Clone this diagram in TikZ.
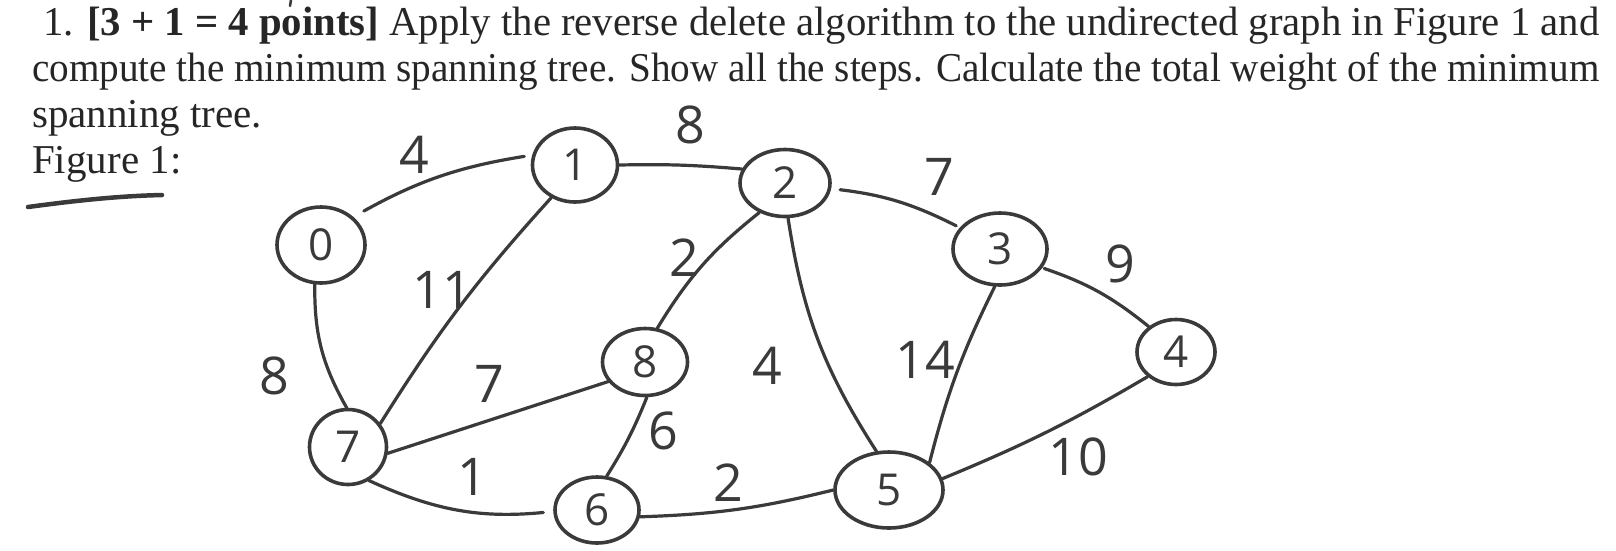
\documentclass[tikz,border=0pt]{standalone}
\usepackage{graphicx}
\usepackage{fontspec}
\setmainfont{Liberation Serif}
\newfontfamily\hand{Open Sans}
\usetikzlibrary{shapes.geometric}
\definecolor{ink}{HTML}{3A3A3A}
\definecolor{txt}{HTML}{262626}
\begin{document}
\begin{tikzpicture}[x=1pt,y=-1pt,
  vert/.style={ellipse, draw=ink, line width=3.6pt, inner sep=0pt, font=\hand\fontsize{44}{44}\selectfont, text=ink},
  edge/.style={draw=ink, line width=3.2pt, line cap=round},
  wt/.style={font=\hand\fontsize{52}{52}\selectfont, text=ink, inner sep=0pt},
  txtline/.style={anchor=base west, inner sep=0pt, font=\fontsize{41}{46}\selectfont, text=txt}]
\useasboundingbox[fill=white] (0,0) rectangle (1616,550);

% question text
\node[txtline] (t1) at (43,35) {\resizebox{1556pt}{\height}{1. \textbf{[3 + 1 = 4 points]} Apply the reverse delete algorithm to the undirected graph in Figure 1 and}};
\node[txtline] (t2) at (32,81) {\resizebox{1567pt}{\height}{compute the minimum spanning tree. Show all the steps. Calculate the total weight of the minimum}};
\node[txtline] (t3) at (32,127) {spanning tree.};
\node[txtline] (t4) at (32,173) {Figure 1:};
\draw[ink, line width=2.5pt, line cap=round] (291,0) -- (290,6);
\draw[ink, line width=4.5pt, line cap=round] (28,207) .. controls (80,200) and (120,196) .. (162,195);

% vertices
\node[vert, minimum width=88pt, minimum height=76pt] (n0) at (321,245) {0};
\node[vert, minimum width=85pt, minimum height=74pt] (n1) at (575,165) {1};
\node[vert, minimum width=90pt, minimum height=67pt] (n2) at (785,183) {2};
\node[vert, minimum width=94pt, minimum height=72pt] (n3) at (1000,249) {3};
\node[vert, minimum width=78pt, minimum height=65pt] (n4) at (1176,352) {4};
\node[vert, minimum width=108pt, minimum height=76pt] (n5) at (889,490) {5};
\node[vert, minimum width=84pt, minimum height=66pt] (n6) at (597,510) {6};
\node[vert, minimum width=77pt, minimum height=75pt] (n7) at (348,447) {7};
\node[vert, minimum width=85pt, minimum height=67pt] (n8) at (645,362) {8};

% edges
\draw[edge, shorten <=12pt, shorten >=8pt] (n0.41) to[bend left=10] (n1.167);
\draw[edge] (n1.0) to[bend left=3] (n2.162);
\draw[edge, shorten <=9pt, shorten >=4pt] (n2.-7) to[bend left=10] (n3.152);
\draw[edge, shorten <=2pt] (n3.-24) to[bend left=10] (n4.137);
\draw[edge] (n1.234) to[bend right=5] (n7.36);
\draw[edge] (n0.261) to[bend right=15] (n7.92);
\draw[edge] (n7.-9) to (n8.208);
\draw[edge, shorten >=10pt] (n7.302) to[bend right=15] (n6.182);
\draw[edge] (n8.273) to[bend left=5] (n6.74);
\draw[edge] (n2.229) to[bend right=10] (n8.70);
\draw[edge] (n2.275) to[bend right=12] (n5.108);
\draw[edge] (n3.262) to[bend right=6] (n5.34);
\draw[edge] (n6.-9) to[bend right=6] (n5.180);
\draw[edge] (n5.12) to[bend right=4] (n4.221);

% weights
\node[wt] (w01) at (414,155) {4};
\node[wt] (w12) at (690,125) {8};
\node[wt] (w17) at (442,290) {11};
\node[wt] (w28) at (684,258) {2};
\node[wt] (w23) at (939,177) {7};
\node[wt] (w34) at (1120,264) {9};
\node[wt] (w07) at (274,376) {8};
\node[wt] (w78) at (489,384) {7};
\node[wt] (w86) at (663,431) {6};
\node[wt] (w76) at (472,477) {1};
\node[wt] (w25) at (767,366) {4};
\node[wt] (w35) at (925,360) {14};
\node[wt] (w54) at (1078,457) {10};
\node[wt] (w65) at (728,483) {2};
\end{tikzpicture}
\end{document}
